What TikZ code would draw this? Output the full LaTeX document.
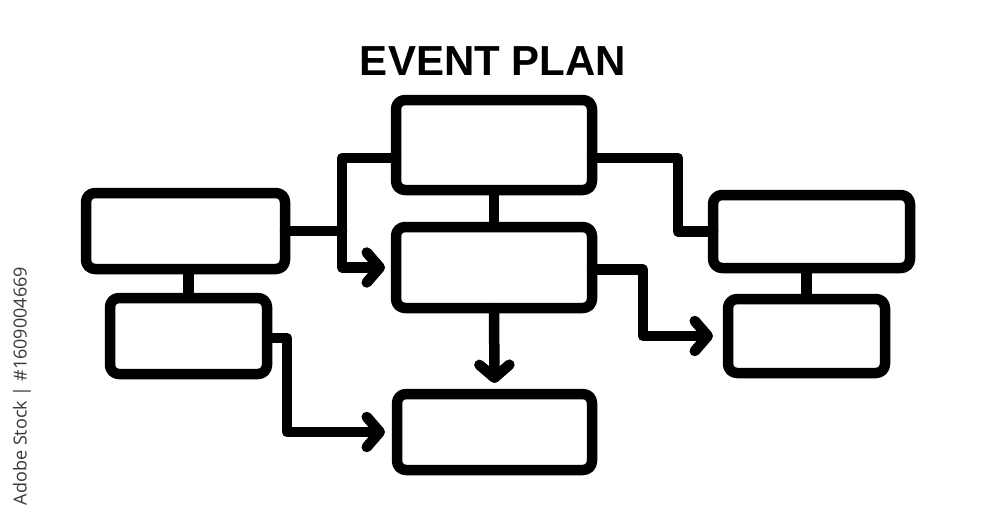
\documentclass[tikz,border=0pt]{standalone}
\usepackage{fontspec}
\setmainfont{Liberation Sans}
\newfontfamily\wmfont{Open Sans}
\usetikzlibrary{arrows.meta,calc}
\begin{document}
\begin{tikzpicture}[x=1pt,y=-1pt,
  line width=10.5pt, line cap=round, line join=round,
  boxs/.style={draw, rounded corners=9pt, inner sep=0pt, outer sep=0pt},
  arr/.style={-{Straight Barb[length=13pt,width=30pt,round]}},
  conn/.style={line cap=butt}]
\useasboundingbox (0,0) rectangle (1000,520);
\fill[white] (0,0) rectangle (1000,520);
% title
\node[anchor=base, inner sep=0pt, font=\bfseries\fontsize{42}{42}\selectfont] (title) at (493,75) {EVENT PLAN};
% watermark side text
\node[rotate=90, inner sep=0pt, text=black!78, font=\wmfont\fontsize{18}{18}\selectfont] (wm) at (22,386) {Adobe Stock | \#1609004669};
% boxes
\node[boxs, minimum width=196pt, minimum height=90pt] (T) at (494,145) {};
\node[boxs, minimum width=196pt, minimum height=81pt] (M) at (494,267.5) {};
\node[boxs, minimum width=195pt, minimum height=76pt] (B) at (494.5,432) {};
\node[boxs, minimum width=199pt, minimum height=76pt] (L1) at (185.5,231) {};
\node[boxs, minimum width=157pt, minimum height=76pt] (L2) at (188.5,336) {};
\node[boxs, minimum width=197pt, minimum height=73pt] (R1) at (811.5,231.5) {};
\node[boxs, minimum width=157pt, minimum height=74pt] (R2) at (806.5,336) {};
% junction
\coordinate (jl) at (342,158);
% connectors
\draw[conn] (T.south) -- (M.north);
\draw[arr] (M.south) -- ([yshift=11pt]B.north);
\draw[conn] (L2.north) -- (L2.north |- L1.south);
\draw[conn] (R2.north) -- (R2.north |- R1.south);
\draw[arr] ([yshift=-13pt]T.west) -- (jl) |- ([xshift=-11pt]M.west);
\draw (L1.east) -- (L1.east -| jl);
\draw ([yshift=-13pt]T.east) -- ++(86,0) |- (R1.west);
\draw[arr] ([yshift=-2pt]M.east) -- ++(51,0) |- ([xshift=-15pt]R2.west);
\draw[arr] ([yshift=-2pt]L2.east) -- ++(20,0) |- ([xshift=-12pt]B.west);
\end{tikzpicture}
\end{document}
